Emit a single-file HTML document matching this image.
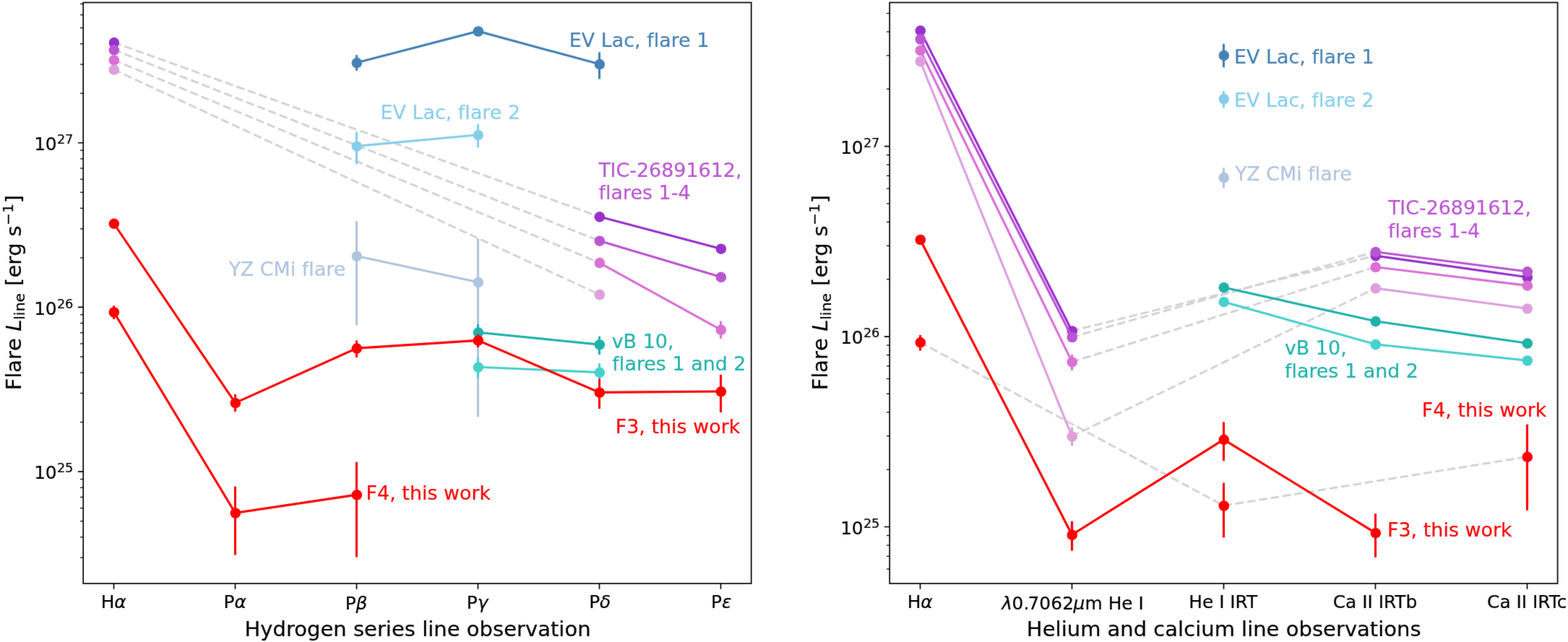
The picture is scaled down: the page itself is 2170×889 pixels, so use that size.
<!DOCTYPE html>
<html lang="en">
<head>
<meta charset="utf-8">
<title>Flare line luminosities</title>
<style>
html,body{margin:0;padding:0;background:#fff;}
body{width:2170px;height:889px;overflow:hidden;}
svg{display:block;}
svg text{font-family:"DejaVu Sans","Liberation Sans",sans-serif;fill:currentColor;stroke:currentColor;stroke-width:0.2px;stroke-linejoin:round;}
</style>
</head>
<body>
<svg width="2170" height="889" viewBox="0 0 2170 889">
<defs><filter id="soft" x="0" y="0" width="100%" height="100%" color-interpolation-filters="sRGB"><feConvolveMatrix order="3" kernelMatrix="0.0064 0.0672 0.0064 0.0672 0.7056 0.0672 0.0064 0.0672 0.0064" edgeMode="duplicate" preserveAlpha="true"/></filter></defs>
<g filter="url(#soft)">
<rect width="2170" height="889" fill="#fff"/>
<g id="left-data">
<path d="M157.55 58.8 L829.55 300.1" fill="none" stroke="#d3d3d3" stroke-width="2.95" stroke-dasharray="11.5 4.98" stroke-dashoffset="0.9"/>
<path d="M157.55 69 L829.55 333.4" fill="none" stroke="#d3d3d3" stroke-width="2.95" stroke-dasharray="11.5 4.98" stroke-dashoffset="0.9"/>
<path d="M157.55 83.1 L829.55 363.8" fill="none" stroke="#d3d3d3" stroke-width="2.95" stroke-dasharray="11.5 4.98" stroke-dashoffset="0.9"/>
<path d="M157.55 96.4 L829.55 407.8" fill="none" stroke="#d3d3d3" stroke-width="2.95" stroke-dasharray="11.5 4.98" stroke-dashoffset="0.9"/>
<path d="M493.55 86.8 L661.55 43.2 L829.55 88.8" fill="none" stroke="#4682b4" stroke-width="3.12"/>
<circle cx="493.85" cy="87.1" r="7.3" fill="#4682b4"/>
<circle cx="661.85" cy="43.5" r="7.3" fill="#4682b4"/>
<circle cx="829.85" cy="89.1" r="7.3" fill="#4682b4"/>
<path d="M493.5 76.1V97.8" stroke="#4682b4" stroke-width="3.12" fill="none"/>
<path d="M661.5 38.5V48.5" stroke="#4682b4" stroke-width="3.12" fill="none"/>
<path d="M829.5 72.3V109.4" stroke="#4682b4" stroke-width="3.12" fill="none"/>
<path d="M493.55 202.4 L661.55 186.8" fill="none" stroke="#87ceeb" stroke-width="3.12"/>
<circle cx="493.85" cy="202.7" r="7.3" fill="#87ceeb"/>
<circle cx="661.85" cy="187.1" r="7.3" fill="#87ceeb"/>
<path d="M493.5 182.5V227.5" stroke="#87ceeb" stroke-width="3.12" fill="none"/>
<path d="M661.5 171.9V204.4" stroke="#87ceeb" stroke-width="3.12" fill="none"/>
<path d="M493.55 354.5 L661.55 390.7" fill="none" stroke="#b0c4de" stroke-width="3.12"/>
<circle cx="493.85" cy="354.8" r="7.3" fill="#b0c4de"/>
<circle cx="661.85" cy="391" r="7.3" fill="#b0c4de"/>
<path d="M493.5 306.2V450.5" stroke="#b0c4de" stroke-width="3.12" fill="none"/>
<path d="M661.5 330.2V577.2" stroke="#b0c4de" stroke-width="3.12" fill="none"/>
<circle cx="157.85" cy="59.1" r="7.3" fill="#9932cc"/>
<path d="M829.55 300.1 L997.55 344.4" fill="none" stroke="#9932cc" stroke-width="3.12"/>
<circle cx="829.85" cy="300.4" r="7.3" fill="#9932cc"/>
<circle cx="997.85" cy="344.7" r="7.3" fill="#9932cc"/>
<circle cx="157.85" cy="69.3" r="7.3" fill="#ba55d3"/>
<path d="M829.55 333.4 L997.55 383.6" fill="none" stroke="#ba55d3" stroke-width="3.12"/>
<circle cx="829.85" cy="333.7" r="7.3" fill="#ba55d3"/>
<circle cx="997.85" cy="383.9" r="7.3" fill="#ba55d3"/>
<circle cx="157.85" cy="83.4" r="7.3" fill="#da70d6"/>
<path d="M829.55 363.8 L997.55 456.6" fill="none" stroke="#da70d6" stroke-width="3.12"/>
<circle cx="829.85" cy="364.1" r="7.3" fill="#da70d6"/>
<circle cx="997.85" cy="456.9" r="7.3" fill="#da70d6"/>
<path d="M997.5 444.7V468.7" stroke="#da70d6" stroke-width="3.12" fill="none"/>
<circle cx="157.85" cy="96.7" r="7.3" fill="#dda0dd"/>
<circle cx="829.85" cy="408.1" r="7.3" fill="#dda0dd"/>
<path d="M661.55 460.3 L829.55 477.1" fill="none" stroke="#20b2aa" stroke-width="3.12"/>
<circle cx="661.85" cy="460.6" r="7.3" fill="#20b2aa"/>
<circle cx="829.85" cy="477.4" r="7.3" fill="#20b2aa"/>
<path d="M661.5 449V472.5" stroke="#20b2aa" stroke-width="3.12" fill="none"/>
<path d="M829.5 465.6V491" stroke="#20b2aa" stroke-width="3.12" fill="none"/>
<path d="M661.55 508.3 L829.55 515.6" fill="none" stroke="#48d1cc" stroke-width="3.12"/>
<circle cx="661.85" cy="508.6" r="7.3" fill="#48d1cc"/>
<circle cx="829.85" cy="515.9" r="7.3" fill="#48d1cc"/>
<path d="M661.5 495.1V523.4" stroke="#48d1cc" stroke-width="3.12" fill="none"/>
<path d="M829.5 503.2V529" stroke="#48d1cc" stroke-width="3.12" fill="none"/>
<path d="M157.55 309.5 L325.55 557.9 L493.55 482.3 L661.55 471.4 L829.55 543.4 L997.55 542" fill="none" stroke="#ff0000" stroke-width="3.12"/>
<circle cx="157.85" cy="309.8" r="7.3" fill="#ff0000"/>
<circle cx="325.85" cy="558.2" r="7.3" fill="#ff0000"/>
<circle cx="493.85" cy="482.6" r="7.3" fill="#ff0000"/>
<circle cx="661.85" cy="471.7" r="7.3" fill="#ff0000"/>
<circle cx="829.85" cy="543.7" r="7.3" fill="#ff0000"/>
<circle cx="997.85" cy="542.3" r="7.3" fill="#ff0000"/>
<path d="M157.5 306.5V313" stroke="#ff0000" stroke-width="3.12" fill="none"/>
<path d="M325.5 546V570" stroke="#ff0000" stroke-width="3.12" fill="none"/>
<path d="M493.5 471.4V494.9" stroke="#ff0000" stroke-width="3.12" fill="none"/>
<path d="M661.5 462.9V480.9" stroke="#ff0000" stroke-width="3.12" fill="none"/>
<path d="M829.5 524.5V566" stroke="#ff0000" stroke-width="3.12" fill="none"/>
<path d="M997.5 518.8V571.1" stroke="#ff0000" stroke-width="3.12" fill="none"/>
<path d="M157.55 432.2 L325.55 710.2 L493.55 685.1" fill="none" stroke="#ff0000" stroke-width="3.12"/>
<circle cx="157.85" cy="432.5" r="7.3" fill="#ff0000"/>
<circle cx="325.85" cy="710.5" r="7.3" fill="#ff0000"/>
<circle cx="493.85" cy="685.4" r="7.3" fill="#ff0000"/>
<path d="M157.5 423.3V442" stroke="#ff0000" stroke-width="3.12" fill="none"/>
<path d="M325.5 673.6V768.5" stroke="#ff0000" stroke-width="3.12" fill="none"/>
<path d="M493.5 639.7V771.6" stroke="#ff0000" stroke-width="3.12" fill="none"/>
</g>
<g id="right-data">
<path d="M1483.5 458.2 L1903.5 354.1" fill="none" stroke="#d3d3d3" stroke-width="2.95" stroke-dasharray="11.5 4.98" stroke-dashoffset="0.9"/>
<path d="M1483.5 466.7 L1903.5 348.7" fill="none" stroke="#d3d3d3" stroke-width="2.95" stroke-dasharray="11.5 4.98" stroke-dashoffset="0.9"/>
<path d="M1483.5 501.1 L1903.5 369.7" fill="none" stroke="#d3d3d3" stroke-width="2.95" stroke-dasharray="11.5 4.98" stroke-dashoffset="0.9"/>
<path d="M1483.5 604.2 L1903.5 399.1" fill="none" stroke="#d3d3d3" stroke-width="2.95" stroke-dasharray="11.5 4.98" stroke-dashoffset="0.9"/>
<path d="M1273.5 474 L1693.5 700.2 L2113.5 632.5" fill="none" stroke="#d3d3d3" stroke-width="2.95" stroke-dasharray="11.5 4.98" stroke-dashoffset="0.9"/>
<circle cx="1693.8" cy="76.9" r="7.3" fill="#4682b4"/>
<path d="M1693.5 60.7V93.3" stroke="#4682b4" stroke-width="3.12" fill="none"/>
<circle cx="1693.8" cy="137" r="7.3" fill="#87ceeb"/>
<path d="M1693.5 126V149.3" stroke="#87ceeb" stroke-width="3.12" fill="none"/>
<circle cx="1693.8" cy="246" r="7.3" fill="#b0c4de"/>
<path d="M1693.5 232.3V260.5" stroke="#b0c4de" stroke-width="3.12" fill="none"/>
<path d="M1273.5 42.3 L1483.5 458.2" fill="none" stroke="#9932cc" stroke-width="3.12"/>
<circle cx="1273.8" cy="42.6" r="7.3" fill="#9932cc"/>
<circle cx="1483.8" cy="458.5" r="7.3" fill="#9932cc"/>
<path d="M1903.5 354.1 L2113.5 383.7" fill="none" stroke="#9932cc" stroke-width="3.12"/>
<circle cx="1903.8" cy="354.4" r="7.3" fill="#9932cc"/>
<circle cx="2113.8" cy="384" r="7.3" fill="#9932cc"/>
<path d="M1273.5 54.1 L1483.5 466.7" fill="none" stroke="#ba55d3" stroke-width="3.12"/>
<circle cx="1273.8" cy="54.4" r="7.3" fill="#ba55d3"/>
<circle cx="1483.8" cy="467" r="7.3" fill="#ba55d3"/>
<path d="M1903.5 348.7 L2113.5 376" fill="none" stroke="#ba55d3" stroke-width="3.12"/>
<circle cx="1903.8" cy="349" r="7.3" fill="#ba55d3"/>
<circle cx="2113.8" cy="376.3" r="7.3" fill="#ba55d3"/>
<path d="M1273.5 69.6 L1483.5 501.1" fill="none" stroke="#da70d6" stroke-width="3.12"/>
<circle cx="1273.8" cy="69.9" r="7.3" fill="#da70d6"/>
<circle cx="1483.8" cy="501.4" r="7.3" fill="#da70d6"/>
<path d="M1483.5 490.9V512.8" stroke="#da70d6" stroke-width="3.12" fill="none"/>
<path d="M1903.5 369.7 L2113.5 395.4" fill="none" stroke="#da70d6" stroke-width="3.12"/>
<circle cx="1903.8" cy="370" r="7.3" fill="#da70d6"/>
<circle cx="2113.8" cy="395.7" r="7.3" fill="#da70d6"/>
<path d="M1273.5 84.7 L1483.5 604.2" fill="none" stroke="#dda0dd" stroke-width="3.12"/>
<circle cx="1273.8" cy="85" r="7.3" fill="#dda0dd"/>
<circle cx="1483.8" cy="604.5" r="7.3" fill="#dda0dd"/>
<path d="M1483.5 591.8V617.4" stroke="#dda0dd" stroke-width="3.12" fill="none"/>
<path d="M1903.5 399.1 L2113.5 427.2" fill="none" stroke="#dda0dd" stroke-width="3.12"/>
<circle cx="1903.8" cy="399.4" r="7.3" fill="#dda0dd"/>
<circle cx="2113.8" cy="427.5" r="7.3" fill="#dda0dd"/>
<path d="M1693.5 397.9 L1903.5 444.8 L2113.5 475.3" fill="none" stroke="#20b2aa" stroke-width="3.12"/>
<circle cx="1693.8" cy="398.2" r="7.3" fill="#20b2aa"/>
<circle cx="1903.8" cy="445.1" r="7.3" fill="#20b2aa"/>
<circle cx="2113.8" cy="475.6" r="7.3" fill="#20b2aa"/>
<path d="M1693.5 417.9 L1903.5 476.8 L2113.5 499.2" fill="none" stroke="#48d1cc" stroke-width="3.12"/>
<circle cx="1693.8" cy="418.2" r="7.3" fill="#48d1cc"/>
<circle cx="1903.8" cy="477.1" r="7.3" fill="#48d1cc"/>
<circle cx="2113.8" cy="499.5" r="7.3" fill="#48d1cc"/>
<path d="M1273.5 331.7 L1483.5 740.5 L1693.5 608.6 L1903.5 737.9" fill="none" stroke="#ff0000" stroke-width="3.12"/>
<circle cx="1273.8" cy="332" r="7.3" fill="#ff0000"/>
<circle cx="1483.8" cy="740.8" r="7.3" fill="#ff0000"/>
<circle cx="1693.8" cy="608.9" r="7.3" fill="#ff0000"/>
<circle cx="1903.8" cy="738.2" r="7.3" fill="#ff0000"/>
<path d="M1483.5 721.7V762.7" stroke="#ff0000" stroke-width="3.12" fill="none"/>
<path d="M1693.5 584.4V638.2" stroke="#ff0000" stroke-width="3.12" fill="none"/>
<path d="M1903.5 711.2V771.8" stroke="#ff0000" stroke-width="3.12" fill="none"/>
<circle cx="1273.8" cy="474.3" r="7.3" fill="#ff0000"/>
<circle cx="1693.8" cy="700.5" r="7.3" fill="#ff0000"/>
<circle cx="2113.8" cy="632.8" r="7.3" fill="#ff0000"/>
<path d="M1273.5 464.1V485.6" stroke="#ff0000" stroke-width="3.12" fill="none"/>
<path d="M1693.5 668.7V744.4" stroke="#ff0000" stroke-width="3.12" fill="none"/>
<path d="M2113.5 587.8V706.8" stroke="#ff0000" stroke-width="3.12" fill="none"/>
</g>
<g id="axes0">
<path d="M115.2 772.21h-4.17" stroke="#000" stroke-width="1.25"/>
<path d="M115.2 743.76h-4.17" stroke="#000" stroke-width="1.25"/>
<path d="M115.2 721.69h-4.17" stroke="#000" stroke-width="1.25"/>
<path d="M115.2 703.66h-4.17" stroke="#000" stroke-width="1.25"/>
<path d="M115.2 688.42h-4.17" stroke="#000" stroke-width="1.25"/>
<path d="M115.2 675.22h-4.17" stroke="#000" stroke-width="1.25"/>
<path d="M115.2 663.57h-4.17" stroke="#000" stroke-width="1.25"/>
<path d="M115.2 584.61h-4.17" stroke="#000" stroke-width="1.25"/>
<path d="M115.2 544.51h-4.17" stroke="#000" stroke-width="1.25"/>
<path d="M115.2 516.06h-4.17" stroke="#000" stroke-width="1.25"/>
<path d="M115.2 493.99h-4.17" stroke="#000" stroke-width="1.25"/>
<path d="M115.2 475.96h-4.17" stroke="#000" stroke-width="1.25"/>
<path d="M115.2 460.72h-4.17" stroke="#000" stroke-width="1.25"/>
<path d="M115.2 447.52h-4.17" stroke="#000" stroke-width="1.25"/>
<path d="M115.2 435.87h-4.17" stroke="#000" stroke-width="1.25"/>
<path d="M115.2 356.91h-4.17" stroke="#000" stroke-width="1.25"/>
<path d="M115.2 316.81h-4.17" stroke="#000" stroke-width="1.25"/>
<path d="M115.2 288.36h-4.17" stroke="#000" stroke-width="1.25"/>
<path d="M115.2 266.29h-4.17" stroke="#000" stroke-width="1.25"/>
<path d="M115.2 248.26h-4.17" stroke="#000" stroke-width="1.25"/>
<path d="M115.2 233.02h-4.17" stroke="#000" stroke-width="1.25"/>
<path d="M115.2 219.82h-4.17" stroke="#000" stroke-width="1.25"/>
<path d="M115.2 208.17h-4.17" stroke="#000" stroke-width="1.25"/>
<path d="M115.2 129.21h-4.17" stroke="#000" stroke-width="1.25"/>
<path d="M115.2 89.11h-4.17" stroke="#000" stroke-width="1.25"/>
<path d="M115.2 60.66h-4.17" stroke="#000" stroke-width="1.25"/>
<path d="M115.2 38.59h-4.17" stroke="#000" stroke-width="1.25"/>
<path d="M115.2 20.56h-4.17" stroke="#000" stroke-width="1.25"/>
<path d="M115.2 5.32h-4.17" stroke="#000" stroke-width="1.25"/>
<path d="M115.2 653.15h-7.29M115.2 425.45h-7.29M115.2 197.75h-7.29M157.5 808v7.7M325.5 808v7.7M493.5 808v7.7M661.5 808v7.7M829.5 808v7.7M997.5 808v7.7" stroke="#000" stroke-width="1.67" fill="none"/>
<rect x="115.2" y="3.5" width="924.5" height="804.5" fill="none" stroke="#000" stroke-width="1.67"/>
</g>
<g id="axes1">
<path d="M1231.2 787.95h-4.17" stroke="#000" stroke-width="1.25"/>
<path d="M1231.2 770.31h-4.17" stroke="#000" stroke-width="1.25"/>
<path d="M1231.2 755.03h-4.17" stroke="#000" stroke-width="1.25"/>
<path d="M1231.2 741.55h-4.17" stroke="#000" stroke-width="1.25"/>
<path d="M1231.2 650.19h-4.17" stroke="#000" stroke-width="1.25"/>
<path d="M1231.2 603.8h-4.17" stroke="#000" stroke-width="1.25"/>
<path d="M1231.2 570.89h-4.17" stroke="#000" stroke-width="1.25"/>
<path d="M1231.2 545.36h-4.17" stroke="#000" stroke-width="1.25"/>
<path d="M1231.2 524.5h-4.17" stroke="#000" stroke-width="1.25"/>
<path d="M1231.2 506.86h-4.17" stroke="#000" stroke-width="1.25"/>
<path d="M1231.2 491.58h-4.17" stroke="#000" stroke-width="1.25"/>
<path d="M1231.2 478.1h-4.17" stroke="#000" stroke-width="1.25"/>
<path d="M1231.2 386.74h-4.17" stroke="#000" stroke-width="1.25"/>
<path d="M1231.2 340.35h-4.17" stroke="#000" stroke-width="1.25"/>
<path d="M1231.2 307.44h-4.17" stroke="#000" stroke-width="1.25"/>
<path d="M1231.2 281.91h-4.17" stroke="#000" stroke-width="1.25"/>
<path d="M1231.2 261.05h-4.17" stroke="#000" stroke-width="1.25"/>
<path d="M1231.2 243.41h-4.17" stroke="#000" stroke-width="1.25"/>
<path d="M1231.2 228.13h-4.17" stroke="#000" stroke-width="1.25"/>
<path d="M1231.2 214.65h-4.17" stroke="#000" stroke-width="1.25"/>
<path d="M1231.2 123.29h-4.17" stroke="#000" stroke-width="1.25"/>
<path d="M1231.2 76.9h-4.17" stroke="#000" stroke-width="1.25"/>
<path d="M1231.2 43.99h-4.17" stroke="#000" stroke-width="1.25"/>
<path d="M1231.2 18.46h-4.17" stroke="#000" stroke-width="1.25"/>
<path d="M1231.2 729.5h-7.29M1231.2 466.05h-7.29M1231.2 202.6h-7.29M1273.5 808v7.7M1483.5 808v7.7M1693.5 808v7.7M1903.5 808v7.7M2113.5 808v7.7" stroke="#000" stroke-width="1.67" fill="none"/>
<rect x="1231.2" y="3.5" width="924.4" height="804.5" fill="none" stroke="#000" stroke-width="1.67"/>
</g>
<g id="notes">
<text transform="translate(0 65.2) scale(1 1.012)" x="787.79 804.76 823.16 831.74 846.72 863.2 877.99 886.57 895.15 904.66 912.18 928.66 939.1 955.64 964.22" y="0" font-size="26.94" color="#4682b4" xml:space="preserve">EV Lac, flare 1</text>
<text transform="translate(0 165.2) scale(1 1.012)" x="526.49 543.46 561.86 570.44 585.42 601.9 616.69 625.27 633.85 643.36 650.88 667.36 677.8 694.34 702.92" y="0" font-size="26.94" color="#87ceeb" xml:space="preserve">EV Lac, flare 2</text>
<text transform="translate(0 244.6) scale(1 1.012)" x="828.56 844.54 852.5 871.27 880.97 898.06 915.16 932.32 949.41 966.57 983.67 1000.83 1017.92" y="0" font-size="26.94" color="#ba55d3" xml:space="preserve">TIC-26891612,</text>
<text transform="translate(0 276.1) scale(1 1.012)" x="828.48 837.99 845.51 861.99 872.43 888.97 902.95 911.53 928.69 938.39" y="0" font-size="26.94" color="#ba55d3" xml:space="preserve">flares 1-4</text>
<text transform="translate(0 381.7) scale(1 1.012)" x="316.84 332.82 351.22 359.8 378.57 401.76 409.28 417.86 427.37 434.89 451.37 461.81" y="0" font-size="26.94" color="#b0c4de" xml:space="preserve">YZ CMi flare</text>
<text transform="translate(0 481.5) scale(1 1.012)" x="846.7 862.61 881.08 889.66 906.81 923.97" y="0" font-size="26.94" color="#20b2aa" xml:space="preserve">vB 10,</text>
<text transform="translate(0 513) scale(1 1.012)" x="847.38 856.89 864.41 880.89 891.33 907.87 921.85 930.43 947.59 956.17 972.64 989.68 1006.77 1015.35" y="0" font-size="26.94" color="#20b2aa" xml:space="preserve">flares 1 and 2</text>
<text transform="translate(0 600.2) scale(1 1.012)" x="851.69 867.17 884.33 892.91 901.48 912.05 929.09 936.61 950.6 959.18 981.18 997.66 1008.72" y="0" font-size="26.94" color="#ff0000" xml:space="preserve">F3, this work</text>
<text transform="translate(0 691.9) scale(1 1.012)" x="506.59 522.07 539.23 547.81 556.38 566.95 583.99 591.51 605.5 614.08 636.08 652.56 663.62" y="0" font-size="26.94" color="#ff0000" xml:space="preserve">F4, this work</text>
<text transform="translate(0 87.9) scale(1 1.012)" x="1708.09 1725.06 1743.46 1752.04 1767.02 1783.5 1798.29 1806.87 1815.45 1824.96 1832.48 1848.96 1859.4 1875.94 1884.52" y="0" font-size="26.94" color="#4682b4" xml:space="preserve">EV Lac, flare 1</text>
<text transform="translate(0 148) scale(1 1.012)" x="1708.09 1725.06 1743.46 1752.04 1767.02 1783.5 1798.29 1806.87 1815.45 1824.96 1832.48 1848.96 1859.4 1875.94 1884.52" y="0" font-size="26.94" color="#87ceeb" xml:space="preserve">EV Lac, flare 2</text>
<text transform="translate(0 249.9) scale(1 1.012)" x="1709.24 1725.22 1743.62 1752.2 1770.97 1794.16 1801.68 1810.26 1819.77 1827.29 1843.77 1854.21" y="0" font-size="26.94" color="#b0c4de" xml:space="preserve">YZ CMi flare</text>
<text transform="translate(0 297.4) scale(1 1.012)" x="1921.26 1937.24 1945.2 1963.97 1973.67 1990.76 2007.86 2025.02 2042.11 2059.27 2076.37 2093.53 2110.62" y="0" font-size="26.94" color="#ba55d3" xml:space="preserve">TIC-26891612,</text>
<text transform="translate(0 328.9) scale(1 1.012)" x="1921.08 1930.59 1938.11 1954.59 1965.03 1981.57 1995.55 2004.13 2021.29 2030.99" y="0" font-size="26.94" color="#ba55d3" xml:space="preserve">flares 1-4</text>
<text transform="translate(0 491) scale(1 1.012)" x="1777.9 1793.81 1812.28 1820.86 1838.01 1855.17" y="0" font-size="26.94" color="#20b2aa" xml:space="preserve">vB 10,</text>
<text transform="translate(0 522.5) scale(1 1.012)" x="1777.88 1787.39 1794.91 1811.39 1821.83 1838.37 1852.35 1860.93 1878.09 1886.67 1903.14 1920.18 1937.27 1945.85" y="0" font-size="26.94" color="#20b2aa" xml:space="preserve">flares 1 and 2</text>
<text transform="translate(0 577) scale(1 1.012)" x="1967.69 1983.17 2000.33 2008.91 2017.48 2028.05 2045.09 2052.61 2066.6 2075.18 2097.18 2113.66 2124.72" y="0" font-size="26.94" color="#ff0000" xml:space="preserve">F4, this work</text>
<text transform="translate(0 743.4) scale(1 1.012)" x="1919.99 1935.47 1952.63 1961.21 1969.78 1980.35 1997.39 2004.91 2018.9 2027.48 2049.48 2065.96 2077.02" y="0" font-size="26.94" color="#ff0000" xml:space="preserve">F3, this work</text>
</g>
<text transform="translate(0 881) scale(1 1.0)" x="338.54 360.36 377.52 395.92 407.23 425.01 443.42 461.32 479.72 488.92 504.03 521.93 533.87 541.95 559.85 574.96 584.16 592.24 600.32 618.73 636.63 645.83 663.61 682.07 697.18 715.08 727.02 744.18 761.96 773.33 781.42 799.2" y="0" font-size="29.01" xml:space="preserve">Hydrogen series line observation</text>
<g id="ticklabels">
<text transform="translate(49.95 663.45) scale(1 1)" font-size="24.87" xml:space="preserve"><tspan x="-2.7 12.71" y="0">10</tspan><tspan x="29.03 39.97" y="-9.05" font-size="17.75">25</tspan></text>
<text transform="translate(49.95 435.75) scale(1 1)" font-size="24.87" xml:space="preserve"><tspan x="-2.7 12.71" y="0">10</tspan><tspan x="29.03 39.97" y="-9.05" font-size="17.75">26</tspan></text>
<text transform="translate(49.95 208.05) scale(1 1)" font-size="24.87" xml:space="preserve"><tspan x="-2.7 12.71" y="0">10</tspan><tspan x="29.03 39.97" y="-9.05" font-size="17.75">27</tspan></text>
<text transform="translate(1166.05 739.8) scale(1 1)" font-size="24.87" xml:space="preserve"><tspan x="-2.7 12.71" y="0">10</tspan><tspan x="29.03 39.97" y="-9.05" font-size="17.75">25</tspan></text>
<text transform="translate(1166.05 476.35) scale(1 1)" font-size="24.87" xml:space="preserve"><tspan x="-2.7 12.71" y="0">10</tspan><tspan x="29.03 39.97" y="-9.05" font-size="17.75">26</tspan></text>
<text transform="translate(1166.05 212.9) scale(1 1)" font-size="24.87" xml:space="preserve"><tspan x="-2.7 12.71" y="0">10</tspan><tspan x="29.03 39.97" y="-9.05" font-size="17.75">27</tspan></text>
<text transform="translate(142.2 842.3) scale(1 1)" font-size="24.87" xml:space="preserve"><tspan x="-2.42" y="0">H</tspan><tspan x="15.98" y="0" font-style="italic">α</tspan></text>
<text transform="translate(311.95 842.3) scale(1 1)" font-size="24.87" xml:space="preserve"><tspan x="-2.42" y="0">P</tspan><tspan x="12.5" y="0" font-style="italic">α</tspan></text>
<text transform="translate(480.1 843.9) scale(1 1)" font-size="24.87" xml:space="preserve"><tspan x="-2.42" y="0">P</tspan><tspan x="12.5" y="0" font-style="italic">β</tspan></text>
<text transform="translate(648.24 843.2) scale(1 1)" font-size="24.87" xml:space="preserve"><tspan x="-2.42" y="0">P</tspan><tspan x="12.5" y="0" font-style="italic">γ</tspan></text>
<text transform="translate(817.56 842.3) scale(1 1)" font-size="24.87" xml:space="preserve"><tspan x="-2.42" y="0">P</tspan><tspan x="12.5" y="0" font-style="italic">δ</tspan></text>
<text transform="translate(986.43 842.3) scale(1 1)" font-size="24.87" xml:space="preserve"><tspan x="-2.42" y="0">P</tspan><tspan x="12.5" y="0" font-style="italic">ε</tspan></text>
<text transform="translate(1258.28 842.1) scale(1 1)" font-size="24.87" xml:space="preserve"><tspan x="-2.42" y="0">H</tspan><tspan x="15.98" y="0" font-style="italic">α</tspan></text>
<text transform="translate(1385.04 843.9) scale(1 1)" font-size="24.87" xml:space="preserve"><tspan x="1.1" y="0" font-style="italic">λ</tspan><tspan x="15.52 31.43 37.4 53.32 69.23 85.15" y="0">0.7062</tspan><tspan x="100.56" y="0" font-style="italic">μ</tspan><tspan x="116.48 140.85 148.8 167.21 182.62 190.58" y="0">m He I</tspan></text>
<text transform="translate(0 842.1) scale(1 1.0)" x="1645.32 1663.97 1679.26 1687.15 1694.43 1702.32 1709.6 1725.01" y="0" font-size="24.87" xml:space="preserve">He I IRT</text>
<text transform="translate(0 842.1) scale(1 1.0)" x="1844.75 1862.1 1877.33 1885.22 1892.5 1899.77 1907.66 1914.94 1930.36 1945.59" y="0" font-size="24.87" xml:space="preserve">Ca II IRTb</text>
<text transform="translate(0 842.1) scale(1 1.0)" x="2058.03 2075.38 2090.61 2098.5 2105.78 2113.05 2120.95 2128.22 2143.64 2154.64" y="0" font-size="24.87" xml:space="preserve">Ca II IRTc</text>
</g>
<text transform="translate(29.3 537.4) rotate(-90) scale(1 0.98)" font-size="29.01" xml:space="preserve"><tspan x="-2.86 13.55 21.51 39.41 51.35 69.25" y="0">Flare </tspan><tspan x="78.7" y="0" font-style="italic">L</tspan><tspan x="94.62 100.09 106.06 118.99 131.92" y="5.05" font-size="20.31">line </tspan><tspan x="141.37 152.81 170.71 182.65 201.05 210" y="0">[erg s</tspan><tspan x="225.42 242.33" y="-11.11" font-size="20.31">−1</tspan><tspan x="256.25" y="0">]</tspan></text>
<text transform="translate(1145.3 537.4) rotate(-90) scale(1 0.98)" font-size="29.01" xml:space="preserve"><tspan x="-2.86 13.55 21.51 39.41 51.35 69.25" y="0">Flare </tspan><tspan x="78.7" y="0" font-style="italic">L</tspan><tspan x="94.62 100.09 106.06 118.99 131.92" y="5.05" font-size="20.31">line </tspan><tspan x="141.37 152.81 170.71 182.65 201.05 210" y="0">[erg s</tspan><tspan x="225.42 242.33" y="-11.11" font-size="20.31">−1</tspan><tspan x="256.25" y="0">]</tspan></text>
<text transform="translate(0 881) scale(1 1.0)" x="1420.84 1442.66 1460.56 1468.65 1476.73 1495.13 1523.35 1532.55 1550.33 1568.73 1587.14 1596.34 1612.31 1630.09 1638.17 1654.15 1662.23 1680.63 1708.86 1718.06 1726.14 1734.22 1752.62 1770.53 1779.73 1797.51 1815.97 1831.08 1848.98 1860.92 1878.08 1895.86 1907.23 1915.31 1933.09 1951.49" y="0" font-size="29.01" xml:space="preserve">Helium and calcium line observations</text>
</g>
</svg>
</body>
</html>
